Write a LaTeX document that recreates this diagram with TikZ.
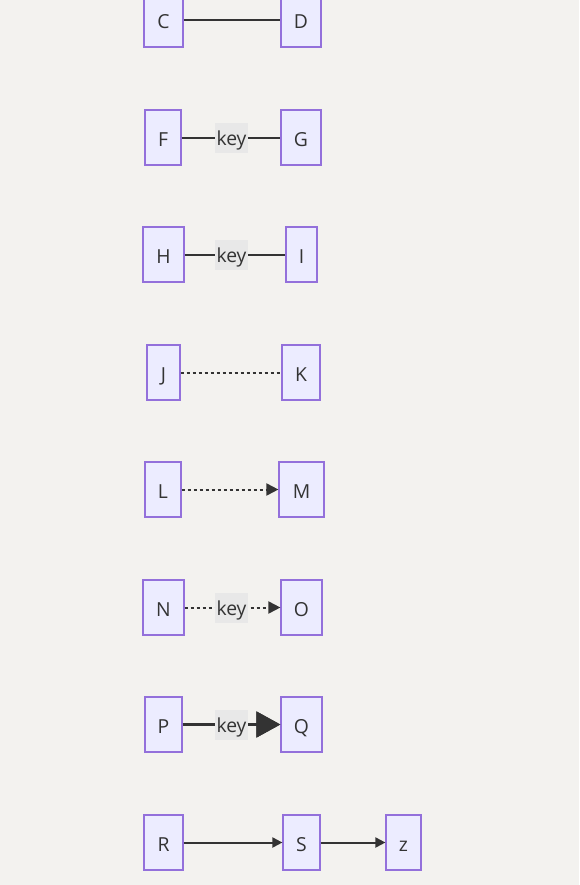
\documentclass[tikz,border=0pt]{standalone}
\usepackage{fontspec}
\setmainfont{Open Sans}
\usetikzlibrary{arrows.meta}
\definecolor{bg}{HTML}{F3F2EF}
\definecolor{boxfill}{HTML}{ECECFF}
\definecolor{bord}{HTML}{9370DB}
\definecolor{ink}{HTML}{333333}
\definecolor{labfill}{HTML}{E8E8E8}
\begin{document}
\begin{tikzpicture}[x=0.75pt,y=-0.75pt,
  box/.style={draw=bord, fill=boxfill, line width=0.9pt, minimum height=41.25pt,
    inner sep=0pt, text=ink, font=\fontsize{14.5}{17}\selectfont,
    text height=14pt, text depth=1pt},
  bw/.style={minimum width=#1*0.75pt},
  lab/.style={fill=labfill, inner sep=0pt, minimum width=24.75pt, minimum height=22.5pt,
    text=ink, font=\fontsize{14.5}{17}\selectfont, text height=13.5pt, text depth=1.5pt},
  edge/.style={draw=ink, line width=1.5pt},
  dots/.style={dash pattern=on 2.25pt off 2.25pt},
  thickedge/.style={draw=ink, line width=2.7pt},
  tip/.style={-{Triangle[length=7.5pt,width=7.5pt]}},
  dtip/.style={-{Triangle[length=9pt,width=9pt]}},
  bigtip/.style={-{Triangle[length=18pt,width=19pt]}}
]
\useasboundingbox (0,0) rectangle (579,885);
\fill[bg] (0,0) rectangle (579,885);

% row 1
\node[box,bw=39] (C) at (163.5,19.5) {C};
\node[box,bw=40] (D) at (301,19.5) {D};
\draw[edge] (C) -- (D);

% row 2
\node[box,bw=36] (F) at (163,137.5) {F};
\node[box,bw=40] (G) at (301,137.5) {G};
\draw[edge] (F) -- (G);
\node[lab] (k1) at (231.5,137.5) {key};

% row 3
\node[box,bw=41] (H) at (163.5,254.5) {H};
\node[box,bw=31] (I) at (301.5,254.5) {I};
\draw[edge] (H) -- (I);
\node[lab] (k2) at (231.5,254.5) {key};

% row 4
\node[box,bw=33] (J) at (163.5,372.5) {J};
\node[box,bw=38] (K) at (301,372.5) {K};
\draw[edge,dots] (J) -- (K);

% row 5
\node[box,bw=36] (L) at (163,489.5) {L};
\node[box,bw=45] (M) at (301.5,489.5) {M};
\draw[edge,dots,dtip] (L) -- (M);

% row 6
\node[box,bw=41] (N) at (163.5,607.5) {N};
\node[box,bw=41] (O) at (301.5,607.5) {O};
\draw[edge,dots,dtip] (N) -- (O);
\node[lab] (k3) at (231.5,607.5) {key};

% row 7
\node[box,bw=37] (P) at (163.5,724.5) {P};
\node[box,bw=41] (Q) at (301.5,724.5) {Q};
\draw[thickedge,bigtip] (P) -- (Q);
\node[lab] (k4) at (231.5,724.5) {key};
\draw[thickedge,bigtip] (k4.east) -- (Q);

% row 8
\node[box,bw=39] (R) at (163.5,842.5) {R};
\node[box,bw=37] (S) at (301.5,842.5) {S};
\node[box,bw=35] (Z) at (403.5,842.5) {z};
\draw[edge,tip] (R) -- (S);
\draw[edge,tip] (S) -- (Z);
\end{tikzpicture}
\end{document}
